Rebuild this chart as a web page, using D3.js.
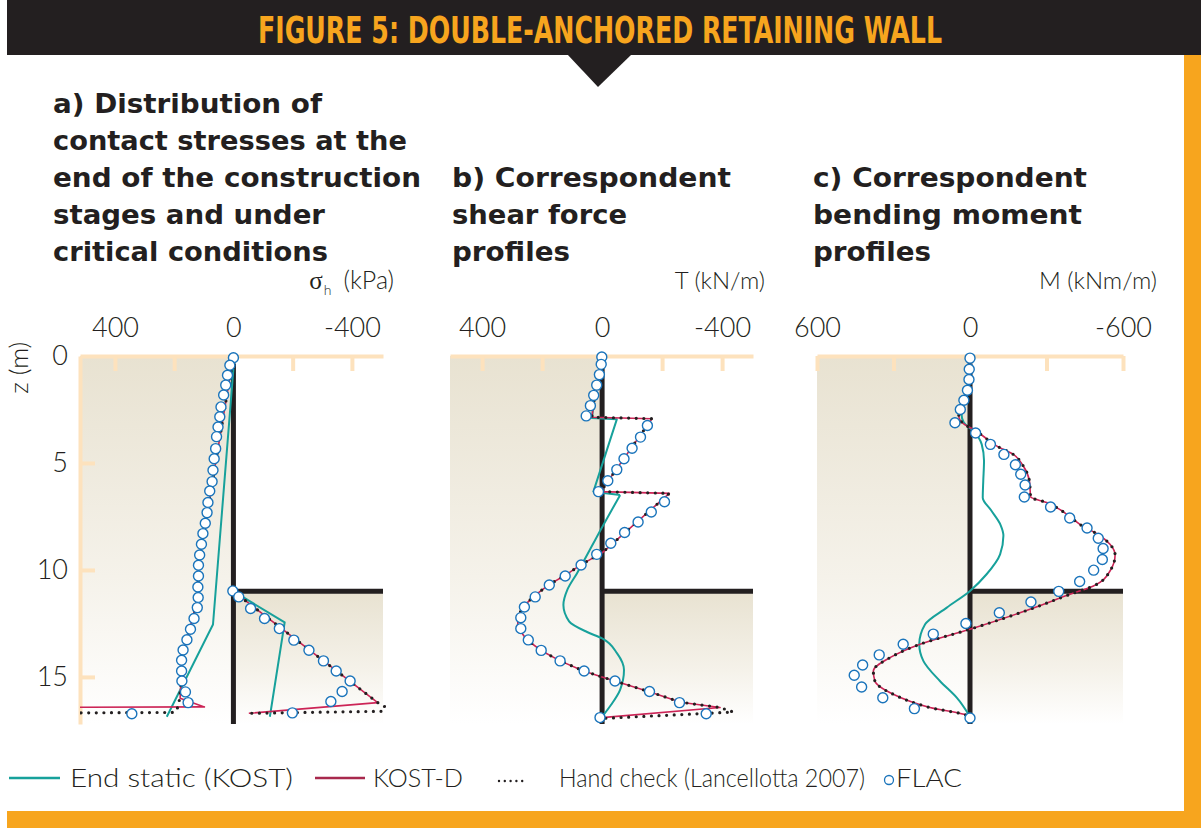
<!DOCTYPE html>
<html>
<head>
<meta charset="utf-8">
<script src="https://cdnjs.cloudflare.com/ajax/libs/d3/7.8.5/d3.min.js"></script>
<style>
  body { margin: 0; background: #fff; }
  svg { display: block; }
  text { font-family: Lato, "Open Sans", sans-serif; fill: #231f20; }
</style>
</head>
<body>
<svg id="chart" width="1201" height="828"></svg>
<script>
// ---- values, pairs are [value, z (m)] ----
const zTicks = [0, 5, 10, 15]
const sigmaLabels = [400, 0, -400]
const sigmaMarks = [400, 200, -200, -400]
const shearLabels = [400, 0, -400]
const shearMarks = [400, 200, -200, -400]
const momentLabels = [600, 0, -600]
const momentMarks = [600, 300, -300, -600]

const titleA = ['a) Distribution of', 'contact stresses at the', 'end of the construction', 'stages and under', 'critical conditions']
const titleB = ['b) Correspondent', 'shear force', 'profiles']
const titleC = ['c) Correspondent', 'bending moment', 'profiles']

// a) contact stresses (kPa)
const aStaticLeft = [[0, 0.6], [69, 12.55], [225, 16.86]]
const aStaticRight = [[0, 11], [-173, 12.45], [-123, 16.86]]
const aKostdLeft = [[0, 0], [118, 9.8], [120, 11.3], [175, 14.2], [178, 15.4], [180, 16.0], [98, 16.4], [530, 16.42]]
const aKostdRight = [[0, 11], [-487, 16.2], [-52, 16.7]]
const aHandLeft = [[0, 0], [118, 9.8], [120, 11.3], [175, 14.2], [178, 15.4], [182, 16.05], [190, 16.5], [200, 16.66], [530, 16.68]]
const aHandRight = [[0, 11], [-487, 16.2], [-525, 16.5], [-525, 16.6], [-56, 16.7]]
const aFlac = [[0, 0.08], [12, 0.43], [20, 0.9], [26, 1.36], [33, 1.82], [42, 2.38], [46, 2.84], [52, 3.32], [57, 3.77],
  [60, 4.33], [65, 4.8], [69, 5.34], [72, 5.87], [80, 6.31], [86, 6.85], [89, 7.32], [95, 7.82], [103, 8.3], [108, 8.8],
  [114, 9.3], [118, 9.78], [118, 10.28], [120, 10.8], [119, 11.29], [122, 11.76], [133, 12.27], [145, 12.77], [157, 13.26],
  [170, 13.74], [175, 14.22], [175, 14.72], [174, 15.19], [162, 15.7], [153, 16.2], [343, 16.72],
  [2, 10.98], [-18, 11.26], [-58, 11.8], [-105, 12.27], [-155, 12.74], [-204, 13.28], [-255, 13.75], [-304, 14.25],
  [-347, 14.72], [-394, 15.19], [-367, 15.68], [-329, 16.15], [-199, 16.68]]

// b) shear force (kN/m)
const bStaticTop = [[0, 0], [12, 1.0], [25, 1.9], [34, 2.9], [-49, 2.96], [29, 6.34], [-60, 6.5]]
const bStaticBottom = [[-60, 6.5], [0, 8.0], [84, 10.16], [115, 10.9], [129, 11.64], [110, 12.4], [50, 12.9], [0, 13.2],
  [-50, 13.9], [-73, 14.68], [-60, 15.6], [-30, 16.3], [0, 16.86]]
const bKostd = [[0, 0], [12, 1.0], [25, 1.9], [34, 2.86], [-166, 2.93], [5, 6.34], [-224, 6.42], [0, 9.2],
  [70, 9.75], [123, 10.25], [178, 10.7], [225, 11.2], [262, 11.7], [282, 12.2], [280, 12.7], [252, 13.25], [205, 13.75],
  [140, 14.25], [62, 14.72], [0, 15.0], [-45, 15.2], [-160, 15.7], [-262, 16.18], [-393, 16.43], [0, 16.9]]
const bHand = [[0, 0], [12, 1.0], [25, 1.9], [34, 2.86], [-166, 2.93], [5, 6.34], [-224, 6.42], [0, 9.2],
  [70, 9.75], [123, 10.25], [178, 10.7], [225, 11.2], [262, 11.7], [282, 12.2], [280, 12.7], [252, 13.25], [205, 13.75],
  [140, 14.25], [62, 14.72], [0, 15.0], [-45, 15.2], [-160, 15.7], [-262, 16.18], [-393, 16.43], [-437, 16.64], [0, 16.94]]
const bFlac = [[1, 0.05], [3, 0.39], [9, 0.87], [18, 1.36], [28, 1.84], [39, 2.32], [53, 2.8],
  [-151, 3.25], [-128, 3.79], [-100, 4.31], [-73, 4.8], [-49, 5.31], [-19, 5.83], [12, 6.34],
  [-208, 6.81], [-164, 7.29], [-120, 7.76], [-75, 8.25], [-29, 8.75], [18, 9.27],
  [70, 9.77], [123, 10.28], [176, 10.7], [223, 11.26], [259, 11.73], [271, 12.23], [271, 12.74], [246, 13.27],
  [203, 13.76], [140, 14.25], [60, 14.72], [-43, 15.19], [-158, 15.68], [-258, 16.2], [-347, 16.72], [7, 16.9]]

// c) bending moment (kNm/m)
const cStatic = [[0, 0], [5, 1.0], [20, 2.0], [33, 2.73], [25, 3.1], [-13, 3.5], [-46, 4.13], [-55, 4.9], [-52, 5.84],
  [-50, 6.62], [-82, 7.2], [-120, 7.9], [-131, 8.4], [-118, 9.27], [-65, 10.2], [0, 10.98], [91, 11.76], [176, 12.54],
  [199, 13.47], [183, 14.25], [118, 15.19], [52, 15.97], [0, 16.86]]
const cKostd = [[0, 0], [3, 0.8], [10, 1.5], [25, 2.1], [40, 2.5], [44, 2.8], [22, 3.2], [-13, 3.42], [-51, 3.74],
  [-104, 4.2], [-170, 4.6], [-209, 5.14], [-233, 5.84], [-238, 6.59], [-301, 6.85], [-380, 7.4], [-431, 7.87],
  [-510, 8.4], [-549, 8.8], [-569, 9.3], [-549, 10.05], [-484, 10.75], [-392, 11.14], [-235, 11.84], [0, 12.77],
  [196, 13.47], [314, 14.1], [379, 14.72], [373, 15.19], [301, 15.81], [157, 16.43], [7, 16.82], [0, 16.92]]
const cFlac = [[0, 0.1], [3, 0.62], [4, 1.1], [10, 1.6], [24, 2.07], [38, 2.5], [59, 3.12], [-22, 3.6], [-80, 4.13],
  [-133, 4.6], [-178, 5.08], [-199, 5.53], [-216, 6.03], [-213, 6.59], [-316, 7.06], [-391, 7.57], [-459, 8.04],
  [-503, 8.52], [-522, 9.0], [-519, 9.51], [-485, 10.01], [-430, 10.54], [-348, 11.0], [-239, 11.5], [-115, 12.0],
  [16, 12.5], [144, 13.0], [262, 13.47], [356, 13.97], [421, 14.44], [454, 14.92], [425, 15.47], [342, 15.97],
  [218, 16.48], [0, 16.92]]

const legendLabels = ['End static (KOST)', 'KOST-D', 'Hand check (Lancellotta 2007)', 'FLAC']

// ---- drawing ----
const svg = d3.select('#chart')
const ink = '#231f20'
const orange = '#f7a51e'
const peach = '#fde2bd'
const styles = {
  static: { stroke: '#17a19b', width: 2, dash: null },
  kostd: { stroke: '#cc2456', width: 1.6, dash: null },
  hand: { stroke: ink, width: 3.2, dash: '0 7.6' }
}
const headFont = '"DejaVu Sans", Verdana, sans-serif'

// frame
svg.append('rect').attr('x', 7).attr('y', 0).attr('width', 1194).attr('height', 55).attr('fill', ink)
svg.append('path').attr('d', 'M567,54 L632,54 L598,87 Z').attr('fill', ink)
svg.append('rect').attr('x', 1184).attr('y', 55).attr('width', 17).attr('height', 773).attr('fill', orange)
svg.append('rect').attr('x', 7).attr('y', 811).attr('width', 1194).attr('height', 17).attr('fill', orange)
svg.append('text')
  .attr('x', 258).attr('y', 43)
  .attr('textLength', 684).attr('lengthAdjust', 'spacingAndGlyphs')
  .style('font-family', '"Liberation Sans Narrow", "DejaVu Sans Condensed", sans-serif')
  .style('font-weight', 'bold').style('font-size', '37px').style('fill', orange)
  .text('FIGURE 5: DOUBLE-ANCHORED RETAINING WALL')

const defs = svg.append('defs')
const grad = defs.append('linearGradient').attr('id', 'soil').attr('x1', 0).attr('y1', 0).attr('x2', 0).attr('y2', 1)
grad.append('stop').attr('offset', 0).attr('stop-color', '#e8e2d1')
grad.append('stop').attr('offset', 0.6).attr('stop-color', '#f5f2ea')
grad.append('stop').attr('offset', 1).attr('stop-color', '#ffffff')

const zScale = d3.scaleLinear().domain([0, 17.2]).range([356, 724])
const zBottom = 17.2

const panels = [
  {
    id: 'a', x: d3.scaleLinear().domain([518, -505]).range([80, 383]),
    labels: sigmaLabels, marks: sigmaMarks, title: titleA, titleX: 53, titleY: 113,
    titleW: [269, 354, 368, 272, 275],
    unit: ['σ', 'h', '(kPa)'], unitX: 394, zAxis: true, flac: aFlac,
    series: [
      { data: aStaticLeft, type: 'static' }, { data: aStaticRight, type: 'static' },
      { data: aKostdLeft, type: 'kostd' }, { data: aKostdRight, type: 'kostd' },
      { data: aHandLeft, type: 'hand' }, { data: aHandRight, type: 'hand' }
    ]
  },
  {
    id: 'b', x: d3.scaleLinear().domain([507, -503]).range([450, 753]),
    labels: shearLabels, marks: shearMarks, title: titleB, titleX: 452, titleY: 187,
    titleW: [279, 175, 118],
    unit: ['T (kN/m)'], unitX: 765, zAxis: false, flac: bFlac,
    series: [
      { data: bStaticTop, type: 'static' }, { data: bStaticBottom, type: 'static', curve: d3.curveMonotoneY },
      { data: bKostd, type: 'kostd' }, { data: bHand, type: 'hand' }
    ]
  },
  {
    id: 'c', x: d3.scaleLinear().domain([600, -600]).range([817, 1123]),
    labels: momentLabels, marks: momentMarks, title: titleC, titleX: 813, titleY: 187,
    titleW: [274, 269, 118],
    unit: ['M (kNm/m)'], unitX: 1157, zAxis: false, flac: cFlac,
    series: [
      { data: cStatic, type: 'static', curve: d3.curveMonotoneY },
      { data: cKostd, type: 'kostd', curve: d3.curveMonotoneY },
      { data: cKostd, type: 'hand', curve: d3.curveMonotoneY }
    ]
  }
]

panels.forEach(p => {
  const g = svg.append('g').attr('class', 'panel-' + p.id)
  const [x0, x1] = p.x.range()
  const xw = p.x(0)

  // title lines
  p.title.forEach((line, i) => {
    g.append('text').attr('x', p.titleX).attr('y', p.titleY + i * 37)
      .attr('textLength', p.titleW[i]).attr('lengthAdjust', 'spacingAndGlyphs')
      .style('font-family', headFont)
      .style('font-size', '26px').style('font-weight', 'bold').text(line)
  })

  // unit label
  const u = g.append('text').attr('x', p.unitX).attr('y', 289).attr('text-anchor', 'end')
    .style('font-size', '24px').style('font-weight', 300)
  if (p.unit.length === 3) {
    u.append('tspan').style('font-family', '"Liberation Serif", serif').style('font-size', '25px').text(p.unit[0])
    u.append('tspan').attr('dy', 6).attr('dx', 1).style('font-size', '14px').text(p.unit[1])
    u.append('tspan').attr('dy', -6).attr('dx', 12).style('font-size', '25px').text(p.unit[2])
  } else {
    u.text(p.unit[0])
  }

  // soil shading
  g.append('rect').attr('x', x0).attr('y', zScale(0)).attr('width', xw - x0)
    .attr('height', zScale(zBottom) - zScale(0)).attr('fill', 'url(#soil)')
  g.append('rect').attr('x', xw).attr('y', zScale(11)).attr('width', x1 - xw)
    .attr('height', zScale(zBottom) - zScale(11)).attr('fill', 'url(#soil)')

  // top axis: tick marks + labels
  const marks = g.append('g').attr('transform', `translate(0,${zScale(0)})`)
    .call(d3.axisBottom(p.x).tickValues(p.marks).tickSize(15).tickSizeOuter(0).tickFormat(''))
  marks.select('.domain').attr('stroke', peach).attr('stroke-width', 4)
  marks.selectAll('.tick line').attr('stroke', peach).attr('stroke-width', 4)
  const labels = g.append('g').attr('transform', `translate(0,${zScale(0) - 16})`)
    .call(d3.axisTop(p.x).tickValues(p.labels).tickSize(0).tickFormat(d => String(d)))
  labels.select('.domain').remove()
  labels.selectAll('text').attr('fill', '#333').style('font-size', '27px').style('font-weight', 300)
    .style('font-family', 'Lato, sans-serif')

  if (p.zAxis) {
    const za = g.append('g').attr('transform', `translate(${x0},0)`)
      .call(d3.axisRight(zScale).tickValues(zTicks.filter(d => d > 0)).tickSize(15).tickSizeOuter(0).tickFormat(''))
    za.select('.domain').attr('stroke', peach).attr('stroke-width', 4)
    za.selectAll('.tick line').attr('stroke', peach).attr('stroke-width', 4)
    const zl = g.append('g').attr('transform', `translate(${x0 - 9},0)`)
      .call(d3.axisLeft(zScale).tickValues(zTicks).tickSize(0).tickFormat(d => String(d)))
    zl.select('.domain').remove()
    zl.selectAll('text').attr('fill', '#333').style('font-size', '27px').style('font-weight', 300)
      .style('font-family', 'Lato, sans-serif')
    g.append('text').attr('transform', `translate(28,${zScale(0.55)}) rotate(-90)`)
      .attr('text-anchor', 'middle').style('font-size', '26px').style('font-weight', 300).text('z (m)')
  }

  // wall and excavation level
  g.append('line').attr('x1', xw).attr('x2', xw).attr('y1', zScale(0.35)).attr('y2', zScale(zBottom))
    .attr('stroke', ink).attr('stroke-width', 5)
  g.append('line').attr('x1', xw - 2).attr('x2', x1).attr('y1', zScale(11)).attr('y2', zScale(11))
    .attr('stroke', ink).attr('stroke-width', 5)

  // profiles, clipped to the axis width
  defs.append('clipPath').attr('id', 'clip-' + p.id)
    .append('rect').attr('x', x0).attr('y', zScale(0) - 10).attr('width', x1 - x0 + 3).attr('height', 400)
  const plot = g.append('g').attr('clip-path', `url(#clip-${p.id})`)
  const order = ['static', 'kostd', 'hand']
  order.forEach(type => {
    p.series.filter(s => s.type === type).forEach(s => {
      const st = styles[type]
      const line = d3.line().curve(s.curve || d3.curveLinear)
        .x(d => p.x(d[0])).y(d => zScale(d[1]))
      plot.append('path').datum(s.data)
        .attr('d', line)
        .attr('fill', 'none')
        .attr('stroke', st.stroke)
        .attr('stroke-width', st.width)
        .attr('stroke-linecap', st.dash ? 'round' : 'butt')
        .attr('stroke-linejoin', 'round')
        .attr('stroke-dasharray', st.dash)
    })
  })
  g.selectAll('circle.flac').data(p.flac).join('circle')
    .attr('class', 'flac')
    .attr('cx', d => p.x(d[0])).attr('cy', d => zScale(d[1])).attr('r', 5)
    .attr('fill', '#fff').attr('stroke', '#1a74bb').attr('stroke-width', 1.4)
})

// legend
const ly = 778
const legend = svg.append('g').attr('class', 'legend')
legend.append('line').attr('x1', 9).attr('x2', 60).attr('y1', ly).attr('y2', ly)
  .attr('stroke', styles.static.stroke).attr('stroke-width', 2.5)
legend.append('line').attr('x1', 315).attr('x2', 365).attr('y1', ly).attr('y2', ly)
  .attr('stroke', '#a8294d').attr('stroke-width', 2.5)
legend.append('line').attr('x1', 499).attr('x2', 528).attr('y1', ly + 3).attr('y2', ly + 3)
  .attr('stroke', ink).attr('stroke-width', 2.4).attr('stroke-linecap', 'round').attr('stroke-dasharray', '0 5.8')
legend.append('circle').attr('cx', 889).attr('cy', ly + 2).attr('r', 4.5)
  .attr('fill', '#fff').attr('stroke', '#1a74bb').attr('stroke-width', 1.3)
const legendX = [70, 373, 559, 896]
const legendW = [223, 90, 306, 66]
legendLabels.forEach((t, i) => {
  legend.append('text').attr('x', legendX[i]).attr('y', ly + 9)
    .attr('textLength', legendW[i]).attr('lengthAdjust', 'spacingAndGlyphs')
    .style('font-size', '25px').style('font-weight', 300).text(t)
})
</script>
</body>
</html>
